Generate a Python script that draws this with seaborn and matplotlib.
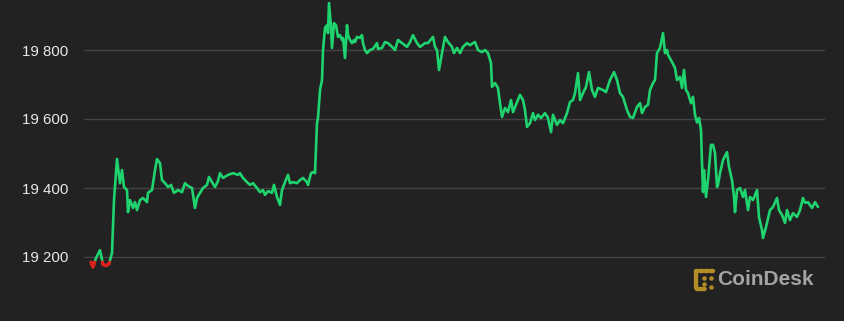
import numpy as np
import pandas as pd
import matplotlib
matplotlib.use("Agg")
import matplotlib.pyplot as plt
from matplotlib.lines import Line2D
import seaborn as sns

# minutes since start of the window
minutes = [0, 4, 10, 18, 24, 30, 36, 42, 46, 52, 58, 62, 66, 72, 74, 78, 84, 88, 92, 98,
           104, 112, 114, 122, 128, 132, 138, 142, 148, 154, 160, 166, 174, 182, 188, 194, 202, 208, 212, 218,
           224, 232, 236, 242, 248, 254, 258, 264, 274, 284, 294, 298, 304, 312, 318, 324, 332, 338, 344, 348,
           354, 362, 366, 372, 378, 382, 388, 394, 398, 404, 412, 418, 424, 432, 434, 440, 444, 448, 452, 454,
           458, 462, 464, 468, 472, 474, 476, 480, 482, 486, 490, 494, 498, 502, 504, 508, 512, 514, 518, 522,
           526, 528, 532, 538, 542, 544, 548, 552, 558, 564, 572, 574, 582, 588, 594, 602, 608, 614, 622, 632,
           638, 644, 652, 658, 668, 674, 684, 688, 692, 696, 702, 708, 714, 722, 726, 732, 738, 744, 752, 758,
           764, 768, 774, 782, 788, 794, 800, 802, 808, 814, 818, 822, 828, 834, 840, 844, 852, 858, 864, 868,
           872, 878, 884, 888, 894, 900, 908, 914, 920, 924, 932, 938, 944, 952, 958, 964, 968, 974, 978, 984,
           990, 996, 1002, 1008, 1014, 1024, 1030, 1038, 1046, 1052, 1058, 1064, 1072, 1078, 1084, 1092, 1098, 1102, 1108, 1114,
           1118, 1124, 1128, 1132, 1138, 1144, 1148, 1152, 1154, 1162, 1168, 1172, 1178, 1182, 1186, 1190, 1194, 1200, 1204, 1208,
           1212, 1216, 1220, 1222, 1224, 1226, 1230, 1234, 1240, 1244, 1248, 1252, 1254, 1258, 1264, 1272, 1276, 1282, 1286, 1288,
           1292, 1298, 1304, 1308, 1314, 1318, 1324, 1332, 1336, 1342, 1344, 1350, 1358, 1364, 1372, 1376, 1382, 1388, 1392, 1398,
           1404, 1412, 1418, 1424, 1428, 1434, 1442, 1448, 1454]

# BTC price (USD)
price = [19185, 19171, 19197, 19220, 19178, 19175, 19180, 19212, 19365, 19484, 19414, 19452, 19403, 19394, 19330, 19365, 19342, 19359, 19336, 19365,
         19371, 19359, 19386, 19394, 19452, 19484, 19472, 19423, 19414, 19403, 19409, 19386, 19394, 19388, 19414, 19406, 19400, 19342, 19371, 19386,
         19400, 19409, 19432, 19417, 19403, 19420, 19443, 19429, 19438, 19443, 19438, 19443, 19429, 19417, 19409, 19414, 19400, 19388, 19394, 19380,
         19391, 19386, 19409, 19374, 19351, 19394, 19417, 19438, 19414, 19417, 19414, 19423, 19429, 19417, 19409, 19443, 19446, 19443, 19588, 19603,
         19684, 19713, 19800, 19864, 19872, 19849, 19936, 19867, 19806, 19878, 19872, 19838, 19843, 19829, 19835, 19777, 19872, 19843, 19829, 19820,
         19829, 19823, 19838, 19835, 19843, 19820, 19800, 19791, 19800, 19803, 19820, 19803, 19806, 19823, 19820, 19809, 19800, 19829, 19820, 19809,
         19823, 19843, 19820, 19809, 19820, 19820, 19838, 19809, 19800, 19742, 19791, 19838, 19823, 19809, 19791, 19806, 19791, 19809, 19820, 19814,
         19820, 19823, 19800, 19794, 19800, 19791, 19762, 19693, 19704, 19690, 19646, 19606, 19632, 19620, 19655, 19620, 19649, 19670, 19655, 19626,
         19577, 19588, 19617, 19597, 19612, 19603, 19617, 19603, 19562, 19612, 19583, 19597, 19588, 19617, 19649, 19655, 19675, 19733, 19655, 19675,
         19693, 19736, 19684, 19664, 19690, 19684, 19678, 19713, 19736, 19713, 19675, 19664, 19626, 19606, 19603, 19635, 19646, 19617, 19635, 19641,
         19684, 19704, 19713, 19791, 19806, 19849, 19791, 19800, 19786, 19765, 19748, 19713, 19722, 19690, 19742, 19684, 19675, 19646, 19664, 19612,
         19590, 19603, 19568, 19472, 19388, 19452, 19374, 19423, 19525, 19525, 19501, 19403, 19409, 19443, 19481, 19504, 19461, 19423, 19374, 19330,
         19394, 19400, 19374, 19394, 19336, 19374, 19365, 19394, 19316, 19278, 19255, 19287, 19336, 19345, 19371, 19336, 19322, 19299, 19336, 19307,
         19327, 19316, 19336, 19371, 19357, 19359, 19342, 19359, 19345]

y_ticks = [19000, 19200, 19400, 19600, 19800]
y_tick_labels = ["19 000", "19 200", "19 400", "19 600", "19 800"]

BG = "#222222"
GREEN = "#1fd46e"
RED = "#e0201c"

sns.set_theme(style="dark")
plt.rcParams["font.family"] = ["Liberation Sans", "DejaVu Sans"]

W, H = 845, 321
fig = plt.figure(figsize=(W / 100, H / 100), dpi=100)
fig.patch.set_facecolor(BG)

# axes spanning pixel x 84..825 and pixel y 0..340 (extends below figure)
left, right = 84, 825
top_px, bot_px = 0, 340
ax = fig.add_axes([left / W, 1 - bot_px / H, (right - left) / W, (bot_px - top_px) / H])
ax.set_facecolor(BG)

df = pd.DataFrame({"minute": minutes, "price": price})
ref = price[0]

sns.lineplot(data=df, x="minute", y="price", ax=ax, color=GREEN, linewidth=1.9,
             estimator=None, sort=False, zorder=3)

# red segments where price is below the opening price
t = np.asarray(minutes, float)
p = np.asarray(price, float)
runs = []
cur = None
for i in range(len(p)):
    below = p[i] < ref
    if below:
        if cur is None:
            cur = []
            if i > 0:
                f = (ref - p[i - 1]) / (p[i] - p[i - 1])
                cur.append((t[i - 1] + f * (t[i] - t[i - 1]), ref))
        cur.append((t[i], p[i]))
    else:
        if cur is not None:
            f = (ref - p[i - 1]) / (p[i] - p[i - 1])
            cur.append((t[i - 1] + f * (t[i] - t[i - 1]), ref))
            runs.append(cur)
            cur = None
if cur is not None:
    runs.append(cur)
for r in runs:
    rdf = pd.DataFrame(r, columns=["minute", "price"])
    sns.lineplot(data=rdf, x="minute", y="price", ax=ax, color=RED, linewidth=2.4,
                 estimator=None, sort=False, zorder=4)

# scale: 19800 at pixel 50, 200 units = 69 px
upp = 200 / 69.0
ax.set_ylim(19800 - (bot_px - 50) * upp, 19800 + 50 * upp)
ax.set_xlim(-14, 1468)

ax.set_yticks(y_ticks)
ax.set_yticklabels(y_tick_labels)
ax.set_xticks([])
ax.set_xlabel("")
ax.set_ylabel("")
ax.tick_params(axis="y", length=0, pad=11, labelsize=10.8, labelcolor="#e8e8e8")
ax.grid(axis="y", color="#444444", linewidth=1.0)
ax.grid(axis="x", visible=False)
for s in ax.spines.values():
    s.set_visible(False)

# CoinDesk logo (decoration) in figure pixel coords
def fx(x):
    return x / W

def fy(y):
    return 1 - y / H

gold = "#b48c28"
fig.add_artist(Line2D([fx(713), fx(696), fx(696), fx(706)],
                      [fy(270.5), fy(270.5), fy(289), fy(289)],
                      color=gold, linewidth=3.2, linestyle=(0, (0.6, 0.55)),
                      solid_capstyle="round", dash_capstyle="round"))
for (dx, dy) in [(704, 278), (704, 284), (711, 278), (711, 287)]:
    fig.add_artist(Line2D([fx(dx)], [fy(dy)], marker="o", markersize=2.2,
                          color=gold, linestyle="none"))
fig.text(fx(717), fy(279.5), "CoinDesk", color="#a3a3a3", fontsize=15,
         fontweight="bold", ha="left", va="center")

fig.savefig("out.png", dpi=100, facecolor=BG)
